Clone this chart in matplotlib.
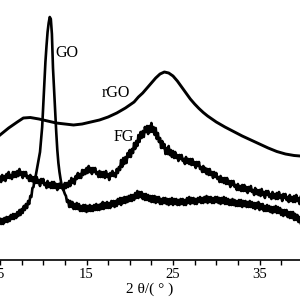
import matplotlib
matplotlib.use("Agg")
import matplotlib.pyplot as plt
import numpy as np

plt.rcParams['font.family'] = ['Liberation Serif', 'DejaVu Serif']

# XRD scan grid, 0.125 deg steps (5.0 ... 39.75)
two_theta = np.arange(5.0, 39.8, 0.125)

# one row per degree, 8 readings each
fg = [83, 78, 85, 80, 84, 79, 86, 82,
      88, 82, 85, 81, 88, 83, 88, 83,
      89, 84, 91, 85, 88, 82, 88, 84,
      88, 82, 84, 79, 85, 79, 83, 78,
      83, 77, 83, 77, 80, 74, 81, 77,
      81, 75, 77, 72, 79, 73, 77, 72,
      78, 72, 78, 72, 76, 70, 76, 72,
      77, 72, 75, 70, 77, 72, 77, 73,
      79, 74, 82, 77, 81, 76, 84, 81,
      87, 82, 86, 82, 90, 85, 90, 86,
      92, 87, 94, 88, 92, 86, 92, 88,
      92, 86, 88, 83, 89, 83, 88, 83,
      88, 82, 89, 83, 86, 80, 87, 84,
      89, 84, 87, 83, 91, 87, 93, 90,
      100, 93, 102, 96, 103, 97, 107, 103,
      110, 103, 111, 107, 117, 111, 119, 114,
      125, 118, 128, 122, 129, 123, 133, 128,
      134, 126, 134, 128, 137, 128, 133, 125,
      132, 121, 127, 118, 122, 112, 119, 112,
      116, 106, 112, 106, 114, 105, 110, 103,
      109, 102, 108, 102, 105, 99, 105, 101,
      105, 99, 101, 96, 103, 97, 101, 96,
      101, 95, 101, 95, 98, 92, 98, 94,
      98, 91, 93, 88, 94, 88, 92, 86,
      91, 85, 91, 85, 88, 82, 88, 83,
      87, 81, 83, 78, 84, 78, 82, 77,
      82, 76, 82, 76, 79, 73, 79, 75,
      79, 73, 75, 70, 76, 70, 74, 69,
      75, 69, 75, 69, 73, 67, 73, 69,
      74, 68, 70, 65, 72, 66, 70, 65,
      70, 64, 71, 65, 68, 62, 69, 65,
      69, 63, 66, 61, 68, 62, 66, 61,
      67, 61, 68, 62, 65, 59, 66, 62,
      66, 60, 63, 58, 65, 59, 63, 58,
      64, 58, 65, 59, 62, 56, 63]

go = [41, 36, 41, 36, 42, 38, 43, 38,
      43, 39, 45, 41, 46, 41, 46, 42,
      48, 44, 50, 45, 51, 47, 54, 50,
      56, 52, 59, 56, 64, 63, 72, 73,
      82, 84, 90, 96,
      # GO (001) reflection
      102, 108, 120, 133, 155, 177, 198, 214, 228, 237, 243, 241, 226,
      192, 170, 148, 128, 110, 97, 88, 81, 75, 71, 69, 66,
      64, 58, 60,
      53, 59, 53, 58, 51, 56, 51, 57,
      51, 56, 49, 54, 49, 55, 49, 55,
      48, 54, 49, 55, 49, 54, 49, 55,
      50, 56, 50, 55, 50, 56, 51, 58,
      51, 57, 52, 58, 52, 57, 52, 59,
      54, 59, 53, 59, 54, 61, 56, 62,
      55, 62, 57, 63, 57, 63, 58, 64,
      59, 65, 59, 65, 60, 67, 62, 69,
      62, 68, 63, 68, 61, 66, 60, 66,
      60, 65, 59, 64, 58, 64, 58, 64,
      57, 63, 58, 63, 56, 61, 56, 62,
      57, 62, 56, 61, 55, 61, 56, 62,
      55, 61, 56, 61, 55, 60, 55, 61,
      56, 61, 55, 60, 55, 62, 57, 63,
      56, 62, 57, 62, 56, 61, 56, 62,
      58, 63, 57, 62, 57, 63, 58, 64,
      57, 63, 58, 63, 57, 62, 57, 63,
      58, 63, 57, 62, 56, 62, 57, 63,
      56, 62, 56, 61, 55, 60, 55, 61,
      55, 60, 54, 59, 54, 60, 54, 60,
      53, 59, 54, 59, 53, 58, 53, 59,
      53, 58, 52, 57, 51, 57, 52, 58,
      50, 56, 51, 56, 49, 54, 49, 55,
      49, 54, 48, 53, 47, 53, 48, 54,
      47, 53, 47, 52, 45, 50, 44, 50,
      45, 50, 43, 48, 42, 48, 42, 48,
      40, 46, 40, 45, 38, 43, 37]

rgo_x = [5.0, 6.0, 7.0, 7.7, 8.5, 9.5, 10.5, 11.5, 12.5, 13.5, 14.5, 15.5,
         16.5, 17.5, 18.5, 19.5, 20.5, 21.0, 21.5, 22.0, 22.5, 23.0, 23.5,
         24.0, 24.5, 25.0, 25.5, 26.0, 26.5, 27.0, 27.5, 28.0, 28.5, 29.0,
         29.5, 30.0, 31.0, 32.0, 33.0, 34.0, 35.0, 36.0, 37.0, 38.0, 39.0, 39.7]
rgo_y = [125, 132, 138, 142, 142.5, 141, 139, 137, 136, 135, 136, 138,
         140, 143, 147, 152, 158, 163, 167, 172, 177, 182, 186,
         188, 187, 184, 179, 173, 167, 161, 156, 151.5, 147.5, 144,
         141, 138, 133, 128.5, 124, 120, 116, 112, 108.5, 106, 104.5, 104]

fig = plt.figure(figsize=(3, 3), dpi=100)
ax = fig.add_axes([0, 40 / 300, 1, 260 / 300])

ax.plot(rgo_x, rgo_y, color='black', lw=2.1, solid_joinstyle='round')
ax.plot(two_theta, go, color='black', lw=1.9)
ax.plot(two_theta, fg, color='black', lw=1.9)

ax.text(11.4, 207, 'GO', fontsize=11.5, va='center', ha='left')
ax.text(16.8, 167, 'rGO', fontsize=11.5, va='center', ha='left')
ax.text(18.1, 123, 'FG', fontsize=11.5, va='center', ha='left')

ax.set_xlim(5.0, 39.68)
ax.set_ylim(0, 260)
for side in ['top', 'left', 'right']:
    ax.spines[side].set_visible(False)
ax.spines['bottom'].set_linewidth(1.2)
ax.set_yticks([])
ax.set_xticks([5, 15, 25, 35])
ax.set_xticks(np.arange(7.5, 40, 2.5), minor=True)
ax.tick_params(axis='x', which='both', direction='out', length=3.5, width=1.0,
               labelsize=10.5, pad=2)
ax.set_xlabel('2 θ/( ° )', fontsize=11, labelpad=1)

fig.savefig('out.png', dpi=100)
